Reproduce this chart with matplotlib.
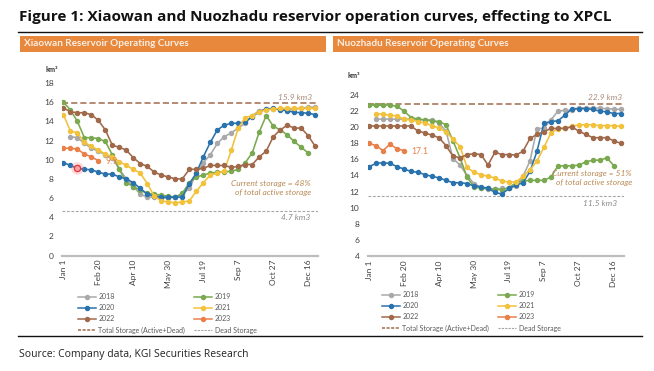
import numpy as np
import matplotlib
matplotlib.use('Agg')
import matplotlib.pyplot as plt
from matplotlib.lines import Line2D
from matplotlib.patches import Rectangle

nan = np.nan

# day offsets from Jan 1 (one reading every ~10 days)
days = [0, 10, 20, 30, 40, 50, 60, 70, 80, 90, 100, 110, 120, 130, 140, 150, 160, 170, 180,
        190, 200, 210, 220, 230, 240, 250, 260, 270, 280, 290, 300, 310, 320, 330, 340, 350, 360]
tick_days = [0, 50, 100, 150, 200, 250, 300, 350]
tick_labels = ['Jan 1', 'Feb 20', 'Apr 10', 'May 30', 'Jul 19', 'Sep 7', 'Oct 27', 'Dec 16']

years = ['2018', '2019', '2020', '2021', '2022', '2023']
year_colors = ['#a9a9a9', '#7aa950', '#2a72ad', '#f2c23c', '#a0694a', '#e9804a']

# Xiaowan storage, km3
xw_2018 = [nan, 12.4, 12.3, 11.7, 11.2, 10.9, 10.5, 10.2, 9.0, 8.0, 7.2, 6.4, 6.1, 6.1, 6.0, 6.0, 6.1, 6.4, 7.0,
           8.5, 9.7, 10.5, 11.7, 12.4, 12.8, 13.3, 13.8, 14.6, 15.1, 15.25, 15.3, 15.3, 15.2, 15.25, 15.4, 15.45, 15.5]
xw_2019 = [16.0, 15.2, 14.0, 12.3, 12.3, 12.2, 11.9, 10.5, 9.0, 7.6, 7.2, 6.8, 6.5, 6.4, 6.3, 6.2, 6.1, 6.5, 7.6,
           8.2, 8.4, 8.6, 8.7, 8.75, 8.8, 9.0, 9.7, 10.7, 12.9, 14.6, 13.5, 13.1, 12.6, 11.9, 11.3, 10.7, nan]
xw_2020 = [9.7, 9.4, 9.1, 9.0, 8.95, 8.7, 8.5, 8.5, 8.2, 8.0, 7.6, 7.0, 6.4, 6.2, 6.1, 6.1, 6.1, 6.1, 7.5,
           8.6, 10.3, 11.8, 13.1, 13.6, 13.8, 13.8, 13.95, 14.5, 15.0, 15.3, 15.35, 15.2, 15.1, 14.95, 14.9, 14.85, 14.7]
xw_2021 = [14.7, 13.0, 12.8, 11.8, 11.4, 11.0, 10.6, 10.3, 9.8, 9.4, 9.0, 8.6, 7.5, 6.2, 5.7, 5.6, 5.5, 5.6, 5.7,
           6.7, 7.6, 8.4, 8.6, 8.8, 11.0, 13.3, 14.4, 14.6, 15.0, 15.2, 15.3, 15.35, 15.35, 15.35, 15.35, 15.35, 15.35]
xw_2022 = [15.4, 15.0, 14.9, 14.9, 14.7, 14.1, 13.1, 11.5, 11.3, 11.0, 10.2, 9.6, 9.3, 8.7, 8.4, 8.2, 8.0, 8.0, 9.0,
           9.0, 9.1, 9.4, 9.4, 9.4, 9.2, 9.3, 9.5, 9.5, 10.3, 10.9, 12.4, 13.1, 13.6, 13.3, 13.3, 12.5, 11.4]
xw_2023 = [11.2, 11.2, 11.1, 10.6, 10.3, 9.9] + [nan] * 31
xw_total, xw_dead = 15.9, 4.7
xw_share = 48

# Nuozhadu storage, km3
nz_2018 = [nan, 21.0, 21.0, 21.0, 21.0, 21.0, 21.0, 21.0, 20.9, 20.9, 20.5, 19.5, 16.1, 15.3, 14.0, 13.0, 12.5, 12.3, 12.3,
           12.4, 12.4, 12.7, 13.9, 15.8, 19.8, 19.9, 20.9, 22.0, 22.1, 22.1, 22.4, 22.4, 22.4, 22.35, 22.3, 22.25, 22.2]
nz_2019 = [22.75, 22.7, 22.75, 22.75, 22.6, 22.0, 21.2, 21.0, 20.9, 20.8, 20.7, 20.3, 18.3, 16.2, 13.8, 12.6, 12.4, 12.4, 12.3,
           12.2, 12.5, 13.1, 13.3, 13.4, 13.4, 13.4, 13.8, 15.2, 15.2, 15.2, 15.3, 15.7, 15.9, 15.9, 16.2, 15.2, nan]
nz_2020 = [15.1, 15.5, 15.6, 15.5, 15.1, 14.8, 14.5, 14.4, 14.1, 13.9, 13.7, 13.4, 13.1, 13.1, 13.0, 12.7, 12.6, 12.4, 11.9,
           11.7, 12.4, 12.8, 13.1, 14.5, 17.0, 20.5, 20.7, 20.8, 21.5, 22.3, 22.3, 22.3, 22.2, 22.0, 21.9, 21.7, 21.7]
nz_2021 = [nan, 21.7, 21.6, 21.5, 21.4, 21.0, 20.9, 20.7, 20.5, 20.2, 19.9, 19.4, 18.5, 17.6, 15.0, 14.4, 14.1, 13.9, 13.7,
           13.3, 13.2, 13.2, 13.9, 14.7, 15.8, 17.5, 19.3, 19.8, 19.9, 20.1, 20.3, 20.3, 20.3, 20.2, 20.2, 20.2, 20.1]
nz_2022 = [20.15, 20.15, 20.15, 20.15, 20.15, 20.15, 20.15, 19.5, 19.3, 19.0, 18.7, 17.7, 16.4, 16.2, 16.6, 16.7, 16.6, 15.3, 16.9,
           16.6, 16.6, 16.55, 17.0, 18.6, 19.1, 19.45, 19.85, 19.85, 19.85, 20.05, 19.5, 19.1, 18.7, 18.7, 18.7, 18.3, 18.0]
nz_2023 = [18.0, 17.7, 17.1, 17.9, 17.3, 17.1] + [nan] * 31
nz_total, nz_dead = 22.9, 11.5
nz_share = 51

W, H = 654, 371
ORANGE = '#e8883c'
FONT = 'Lato'


def fx(px):
    return px / W


def fy(py):
    return 1 - py / H


def draw_panel(ax, series, total, dead, ylim, yticks):
    for vals, c in zip(series, year_colors):
        ax.plot(days, np.array(vals, dtype=float), color=c, lw=1.15, marker='o', ms=2.9, zorder=3)
    ax.axhline(total, color='#a0694a', lw=1.1, ls=(0, (4, 2)), zorder=2)
    ax.axhline(dead, color='#a6a6a6', lw=0.8, ls=(0, (2.5, 1.5)), zorder=2)
    ax.set_xlim(-2, 364)
    ax.set_ylim(*ylim)
    ax.set_yticks(yticks)
    ax.set_xticks(tick_days)
    ax.set_xticklabels(tick_labels)
    for s in ['top', 'right', 'left']:
        ax.spines[s].set_visible(False)
    ax.spines['bottom'].set_color('#bdbdbd')
    ax.spines['bottom'].set_linewidth(1.6)
    ax.tick_params(axis='both', length=0, labelsize=6, labelcolor='#404040')
    ax.tick_params(axis='y', pad=6)
    ax.tick_params(axis='x', pad=3, labelrotation=90)
    ax.patch.set_visible(False)

    h = [Line2D([], [], color=c, lw=1.1, marker='o', ms=2.9) for c in year_colors]
    h_tot = Line2D([], [], color='#a0694a', lw=1.1, ls=(0, (2, 1)))
    h_dead = Line2D([], [], color='#a6a6a6', lw=0.8, ls=(0, (2, 1)))
    handles = [h[0], h[2], h[4], h_tot, h[1], h[3], h[5], h_dead]
    labels = [years[0], years[2], years[4], 'Total Storage (Active+Dead)',
              years[1], years[3], years[5], 'Dead Storage']
    return handles, labels


plt.rcParams['font.family'] = [FONT, 'DejaVu Sans']

fig = plt.figure(figsize=(W / 100, H / 100), dpi=100)
fig.patch.set_facecolor('white')

# title, rules, source
fig.text(fx(19), fy(17), 'Figure 1: Xiaowan and Nuozhadu reservior operation curves, effecting to XPCL',
         family='Open Sans', weight='bold', fontsize=11.0, va='center', ha='left', color='#111111')
fig.add_artist(Line2D([fx(18), fx(642)], [fy(32), fy(32)], color='#111111', lw=1.0))
fig.add_artist(Line2D([fx(18), fx(642)], [fy(335.5), fy(335.5)], color='#111111', lw=1.0))
fig.text(fx(19), fy(355), 'Source: Company data, KGI Securities Research',
         family='Open Sans', fontsize=7.5, va='center', ha='left', color='#222222')

# panel headers
for x0, x1, label in [(20, 326, 'Xiaowan Reservoir Operating Curves'),
                      (333, 639, 'Nuozhadu Reservoir Operating Curves')]:
    fig.add_artist(Rectangle((fx(x0), fy(52)), fx(x1 - x0), 16 / H, transform=fig.transFigure,
                             facecolor=ORANGE, edgecolor='none'))
    fig.text(fx(x0 + 4), fy(44), label, color='#fbeee2', weight='bold', fontsize=7.2,
             va='center', ha='left')

legend_kw = dict(loc='upper left', bbox_transform=fig.transFigure, ncol=2, frameon=False,
                 fontsize=5.0, labelcolor='#595959', handlelength=2.6, handletextpad=0.35,
                 columnspacing=1.3, labelspacing=0.6, borderpad=0, borderaxespad=0)

# Xiaowan panel
ax1 = fig.add_axes([fx(62), fy(255.6), 256 / W, 172.6 / H])
hl, lb = draw_panel(ax1, [xw_2018, xw_2019, xw_2020, xw_2021, xw_2022, xw_2023],
                    xw_total, xw_dead, (0, 18), range(0, 19, 2))
# screen-capture cursor highlight sitting on the 2020 curve
ax1.plot(days[2], xw_2020[2], 'o', ms=9, color='#ff6b6b', alpha=0.25, zorder=5, mec='none')
ax1.plot(days[2], xw_2020[2], 'o', ms=4.5, mfc='#f7a3a3', mec='#e0343a', mew=0.9, zorder=6)
ax1.legend(hl, lb, bbox_to_anchor=(fx(78), fy(293)), **legend_kw)
fig.text(fx(46), fy(70), 'km³', fontsize=5.2, weight='bold', color='#333333', va='center')
fig.text(fx(312), fy(97), f'{xw_total} km3', fontsize=6, style='italic', color='#a98a78', ha='right', va='center')
fig.text(fx(310), fy(218), f'{xw_dead} km3', fontsize=6, style='italic', color='#8a8a8a', ha='right', va='center')
fig.text(fx(311), fy(188), f'Current storage = {xw_share}%\nof total active storage', fontsize=6,
         style='italic', color='#b98a56', ha='right', va='center', linespacing=1.25)
fig.text(fx(106), fy(161), '9.9', fontsize=6.2, color='#e9804a', ha='left', va='center')

# Nuozhadu panel
ax2 = fig.add_axes([fx(367.7), fy(256), 256 / W, 161 / H])
hl, lb = draw_panel(ax2, [nz_2018, nz_2019, nz_2020, nz_2021, nz_2022, nz_2023],
                    nz_total, nz_dead, (4, 24), range(4, 25, 2))
ax2.legend(hl, lb, bbox_to_anchor=(fx(382), fy(291)), **legend_kw)
fig.text(fx(348), fy(75), 'km³', fontsize=5.2, weight='bold', color='#333333', va='center')
fig.text(fx(622), fy(97), f'{nz_total} km3', fontsize=6, style='italic', color='#a98a78', ha='right', va='center')
fig.text(fx(617), fy(204), f'{nz_dead} km3', fontsize=6, style='italic', color='#8a8a8a', ha='right', va='center')
fig.text(fx(632), fy(178), f'Current storage = {nz_share}%\nof total active storage', fontsize=6,
         style='italic', color='#b98a56', ha='right', va='center', linespacing=1.25)
fig.text(fx(411), fy(151), '17.1', fontsize=6.2, color='#e9804a', ha='left', va='center')

fig.savefig('out.png', dpi=100, facecolor='white')
